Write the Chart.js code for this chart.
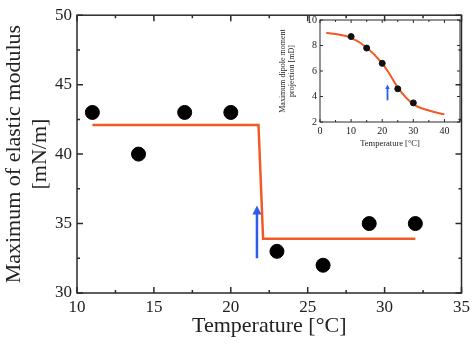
<!DOCTYPE html>
<html>
<head>
<meta charset="utf-8">
<script src="https://cdn.jsdelivr.net/npm/chart.js@4/dist/chart.umd.min.js"></script>
<style>
  html, body { margin: 0; padding: 0; background: #fff; }
  #wrap { position: relative; width: 474px; height: 351px; }
  #mainChart { position: absolute; left: 0; top: 0; }
  #insetChart { position: absolute; left: 270px; top: 0; }
</style>
</head>
<body>
<div id="wrap">
  <canvas id="mainChart" width="474" height="351"></canvas>
  <canvas id="insetChart" width="204" height="150"></canvas>
</div>
<script>
// main panel: elastic modulus vs temperature
const temps = [11, 14, 17, 20, 23, 26, 29, 32];
const modulus = [43, 40, 43, 43, 33, 32, 35, 35];
const fitX = [11, 21.8, 22.1, 32];
const fitY = [42.1, 42.1, 33.9, 33.9];
const arrowX = [21.7, 21.7];
const arrowY = [32.5, 36.3];

// inset: dipole moment projection vs temperature
const insetTemps = [10, 15, 20, 25, 30];
const insetMoment = [8.7, 7.8, 6.6, 4.6, 3.5];
const curveX = [2, 5, 10, 15, 20, 22, 25, 30, 35, 40];
const curveY = [9.0, 8.9, 8.6, 7.85, 6.6, 5.9, 4.7, 3.4, 2.9, 2.6];
const insetArrowX = [21.7, 21.7];
const insetArrowY = [3.7, 4.95];

const SERIF = "'Liberation Serif', 'DejaVu Serif', serif";
const RED = '#F25A24';
const BLUE = '#2E5BEA';

// frame + inward ticks on all four sides
const frameTicks = {
  id: 'frameTicks',
  afterDatasetsDraw(chart, args, o) {
    const { ctx, chartArea: a, scales: { x, y } } = chart;
    ctx.save();
    ctx.strokeStyle = '#2a2a2a';
    ctx.lineWidth = o.lineWidth;
    ctx.strokeRect(a.left, a.top, a.right - a.left, a.bottom - a.top);
    ctx.beginPath();
    x.ticks.forEach(t => {
      const p = x.getPixelForValue(t.value);
      const L = t.value % o.xMajor === 0 ? o.major : o.minor;
      ctx.moveTo(p, a.bottom); ctx.lineTo(p, a.bottom - L);
      ctx.moveTo(p, a.top); ctx.lineTo(p, a.top + L);
    });
    y.ticks.forEach(t => {
      const p = y.getPixelForValue(t.value);
      const L = t.value % o.yMajor === 0 ? o.major : o.minor;
      ctx.moveTo(a.left, p); ctx.lineTo(a.left + L, p);
      ctx.moveTo(a.right, p); ctx.lineTo(a.right - L, p);
    });
    ctx.stroke();
    ctx.restore();
  }
};

// vertical arrow drawn through the chart's scales
const arrow = {
  id: 'arrow',
  afterDatasetsDraw(chart, args, o) {
    const { ctx, scales: { x, y } } = chart;
    const px = x.getPixelForValue(o.x[0]);
    const y0 = y.getPixelForValue(o.y[0]);
    const y1 = y.getPixelForValue(o.y[1]);
    ctx.save();
    ctx.strokeStyle = o.color;
    ctx.fillStyle = o.color;
    ctx.lineWidth = o.width;
    ctx.beginPath();
    ctx.moveTo(px, y0); ctx.lineTo(px, y1 + o.head);
    ctx.stroke();
    ctx.beginPath();
    ctx.moveTo(px, y1);
    ctx.lineTo(px - o.head * 0.65, y1 + o.head * 1.3);
    ctx.lineTo(px + o.head * 0.65, y1 + o.head * 1.3);
    ctx.closePath();
    ctx.fill();
    ctx.restore();
  }
};

new Chart(document.getElementById('mainChart'), {
  type: 'scatter',
  data: {
    datasets: [
      {
        data: fitX.map((v, i) => ({ x: v, y: fitY[i] })),
        showLine: true,
        borderColor: RED,
        borderWidth: 2.5,
        pointRadius: 0,
        order: 2,
      },
      {
        data: temps.map((v, i) => ({ x: v, y: modulus[i] })),
        backgroundColor: '#000',
        borderColor: '#000',
        pointRadius: 7,
        order: 1,
      },
    ],
  },
  options: {
    responsive: false,
    animation: false,
    layout: { padding: { top: 7, right: 9, left: 0, bottom: 0 } },
    plugins: {
      legend: { display: false },
      tooltip: { enabled: false },
      frameTicks: { lineWidth: 1.5, xMajor: 5, yMajor: 5, major: 6, minor: 3 },
      arrow: { x: arrowX, y: arrowY, color: BLUE, width: 2.5, head: 7 },
    },
    scales: {
      x: {
        type: 'linear', min: 10, max: 35,
        grid: { display: false, drawTicks: false }, border: { display: false },
        afterFit: s => { s.height = 58; },
        ticks: {
          stepSize: 2.5, autoSkip: false, maxRotation: 0, padding: 4,
          color: '#222', font: { family: SERIF, size: 17 },
          callback: v => (v % 5 === 0 ? v : ''),
        },
        title: {
          display: true, text: 'Temperature [°C]', color: '#222',
          font: { family: SERIF, size: 22 }, padding: { top: 2, bottom: 12 },
        },
      },
      y: {
        min: 30, max: 50,
        grid: { display: false, drawTicks: false }, border: { display: false },
        afterFit: s => { s.width = 77; },
        ticks: {
          stepSize: 2.5, autoSkip: false, padding: 5,
          color: '#222', font: { family: SERIF, size: 17 },
          callback: v => (v % 5 === 0 ? v : ''),
        },
        title: {
          display: true, text: ['Maximum of elastic modulus', '[mN/m]'], color: '#222',
          font: { family: SERIF, size: 22, lineHeight: 1.15 }, padding: { top: 2, bottom: 0 },
        },
      },
    },
  },
  plugins: [frameTicks, arrow],
});

new Chart(document.getElementById('insetChart'), {
  type: 'scatter',
  data: {
    datasets: [
      {
        data: curveX.map((v, i) => ({ x: v, y: curveY[i] })),
        showLine: true,
        cubicInterpolationMode: 'monotone',
        borderColor: RED,
        borderWidth: 2,
        pointRadius: 0,
        order: 2,
      },
      {
        data: insetTemps.map((v, i) => ({ x: v, y: insetMoment[i] })),
        backgroundColor: '#111',
        borderColor: '#111',
        pointRadius: 3,
        order: 1,
      },
    ],
  },
  options: {
    responsive: false,
    animation: false,
    layout: { padding: { top: 20, right: 14, left: 0, bottom: 0 } },
    plugins: {
      legend: { display: false },
      tooltip: { enabled: false },
      frameTicks: { lineWidth: 1, xMajor: 10, yMajor: 2, major: 3, minor: 2 },
      arrow: { x: insetArrowX, y: insetArrowY, color: BLUE, width: 1.8, head: 3.5 },
    },
    scales: {
      x: {
        type: 'linear', min: 0, max: 45,
        grid: { display: false, drawTicks: false }, border: { display: false },
        afterFit: s => { s.height = 28; },
        ticks: {
          stepSize: 5, autoSkip: false, maxRotation: 0, padding: 3,
          color: '#222', font: { family: SERIF, size: 10 },
          callback: v => (v % 10 === 0 && v <= 40 ? v : ''),
        },
        title: {
          display: true, text: 'Temperature [°C]', color: '#222',
          font: { family: SERIF, size: 8.5 }, padding: { top: 0, bottom: 1 },
        },
      },
      y: {
        min: 2, max: 10,
        grid: { display: false, drawTicks: false }, border: { display: false },
        afterFit: s => { s.width = 50; },
        ticks: {
          stepSize: 2, autoSkip: false, padding: 3,
          color: '#222', font: { family: SERIF, size: 10 },
        },
        title: {
          display: true, text: ['Maximum dipole moment', 'projection [mD]'], color: '#222',
          font: { family: SERIF, size: 8, lineHeight: 1.2 }, padding: { top: 8, bottom: 0 },
        },
      },
    },
  },
  plugins: [frameTicks, arrow],
});
</script>
</body>
</html>
